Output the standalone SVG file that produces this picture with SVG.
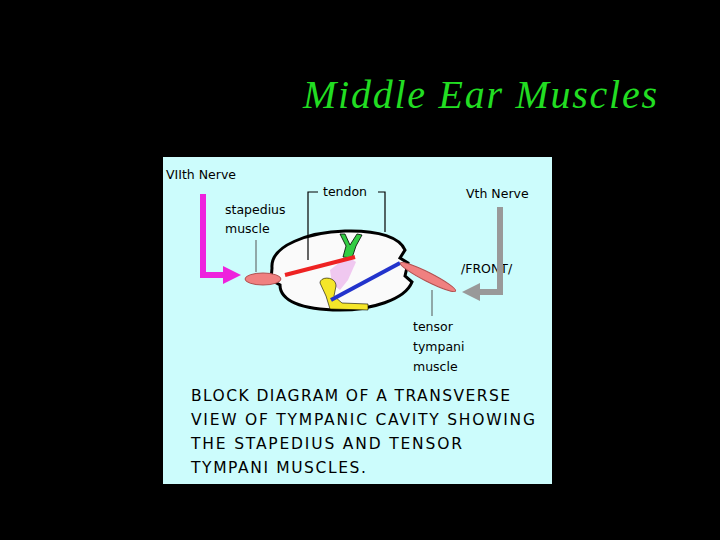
<svg xmlns="http://www.w3.org/2000/svg" width="720" height="540" viewBox="0 0 720 540">
<style>
.t{font-family:"DejaVu Sans",sans-serif;font-size:12.5px;fill:#000}
.b{font-family:"DejaVu Sans",sans-serif;font-size:15.5px;fill:#000}
</style>
<defs>
<marker id="mh" markerWidth="3" markerHeight="3" refX="1.5" refY="1.5" orient="auto"><path d="M0,0L3,1.5L0,3z" fill="#ee22dd"/></marker>
<marker id="gh" markerWidth="3" markerHeight="3" refX="1.5" refY="1.5" orient="auto"><path d="M0,0L3,1.5L0,3z" fill="#999"/></marker>
</defs>
<rect width="720" height="540" fill="#000"/>
<text x="657" y="108" text-anchor="end" font-family="Liberation Serif,serif" font-style="italic" font-size="40" textLength="354" fill="#22dd22">Middle Ear Muscles</text>
<rect x="163" y="157" width="389" height="327" fill="#ccfcfc"/>
<g id="cavity">
<path d="M272,268 C270,245 310,232 345,231 C380,230 400,238 405,250 L400,258 L408,263 L405,276 L412,282 C405,300 370,310 340,310 C300,310 280,300 280,285 L271,280 Z" fill="#fafafa" stroke="#000" stroke-width="3"/>
<path d="M340,234 L346,246 L343,257 L352,258 L356,246 L362,235 L357,234 L350,245 L345,234Z" fill="#33cc44" stroke="#000" stroke-width="0.8"/>
<path d="M350,258 L356,262 L348,280 L340,290 L332,284 L330,270 L340,262Z" fill="#f0c8f0"/>
<path d="M320,283 C320,276 336,276 336,286 L334,296 L342,303 L368,304 L368,310 L330,309 L326,296 Z" fill="#f5e62a" stroke="#000" stroke-width="0.6"/>
<line x1="285" y1="275" x2="355" y2="257" stroke="#ee2222" stroke-width="4"/>
<line x1="331" y1="300" x2="400" y2="263" stroke="#2233cc" stroke-width="4"/>
</g>
<g id="stapedius"><ellipse cx="263" cy="279" rx="18" ry="6" fill="#f08080" stroke="#b05050"/><line x1="256" y1="240" x2="256" y2="272" stroke="#555"/><text class="t" x="225" y="214">stapedius</text><text class="t" x="225" y="233">muscle</text></g>
<g id="tensor"><ellipse cx="428" cy="277" rx="31" ry="4.5" transform="rotate(27 428 277)" fill="#f08080" stroke="#b05050"/><line x1="432" y1="290" x2="432" y2="316" stroke="#555"/><text class="t" x="413" y="331">tensor</text><text class="t" x="413" y="351">tympani</text><text class="t" x="413" y="371">muscle</text></g>
<g id="tendon"><path d="M308,260 V192 H318 M378,192 H385 V232" fill="none" stroke="#000" stroke-width="1.2"/><text class="t" x="323" y="196">tendon</text></g>
<g id="labels"><text class="t" x="166" y="179">VIIth Nerve</text><text class="t" x="466" y="198">Vth Nerve</text><text class="t" x="461" y="273">/FRONT/</text></g>
<g id="connectors">
<path d="M203,194 V275 H232" fill="none" stroke="#ee22dd" stroke-width="6" marker-end="url(#mh)"/>
<path d="M500,207 V292 H471" fill="none" stroke="#999" stroke-width="6" marker-end="url(#gh)"/>
</g>
<g id="caption">
<text class="b" x="191" y="401" textLength="319">BLOCK DIAGRAM OF A TRANSVERSE</text>
<text class="b" x="191" y="425" textLength="344">VIEW OF TYMPANIC CAVITY SHOWING</text>
<text class="b" x="191" y="449" textLength="271">THE STAPEDIUS AND TENSOR</text>
<text class="b" x="191" y="473" textLength="175">TYMPANI MUSCLES.</text>
</g>
</svg>
